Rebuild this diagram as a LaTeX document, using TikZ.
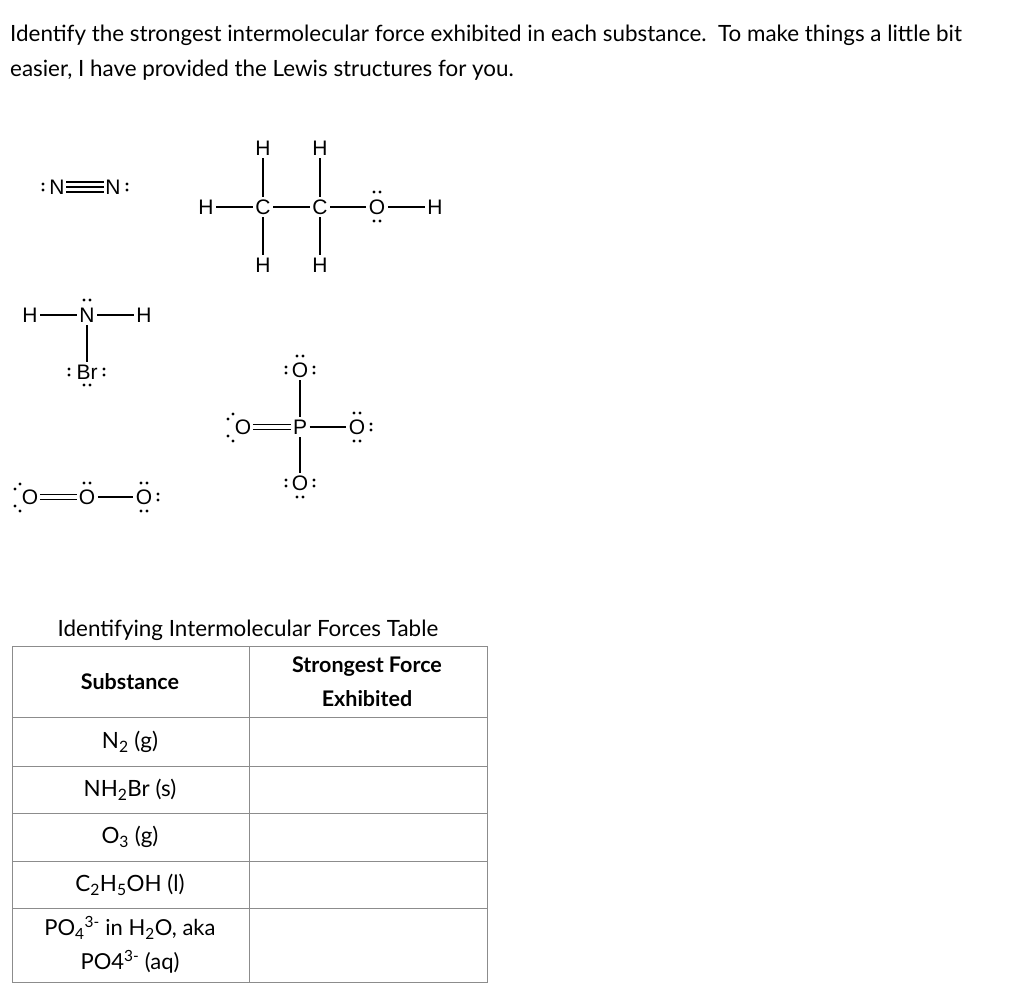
\documentclass[tikz,border=0pt]{standalone}
\usepackage{fontspec}
\setmainfont{Lato}
\newfontfamily\atomfont{Liberation Sans}
\newcommand\pH[2]{\fill (#1-3,#2) circle (1.7) (#1+3,#2) circle (1.7);}
\newcommand\pV[2]{\fill (#1,#2-3) circle (1.7) (#1,#2+3) circle (1.7);}
\newcommand\pD[4]{\fill (#1,#2) circle (1.7) (#3,#4) circle (1.7);}
\begin{document}
\begin{tikzpicture}[x=1pt,y=-1pt,
  atom/.style={font=\atomfont\fontsize{21}{21}\selectfont,inner sep=1.5pt,text height=15pt,text depth=0pt},
  bond/.style={line width=1.4pt,shorten <=1pt,shorten >=1pt},
  txt/.style={font=\fontsize{22.4}{26}\selectfont,inner sep=0pt},
  grid/.style={draw=black!45,line width=0.9pt}]
\useasboundingbox (0,0) rectangle (1024,1003);
\node[txt,anchor=base west] (t1) at (10,42) {Identify the strongest intermolecular force exhibited in each substance.\ \ To make things a little bit};
\node[txt,anchor=base west] (t2) at (10,77) {easier, I have provided the Lewis structures for you.};
% N2
\node[atom] (n1) at (57,187) {N};
\node[atom] (n2) at (113,187) {N};
\draw[line width=1.3pt] ([yshift=-5]n1.east) -- ([yshift=-5]n2.west) (n1.east) -- (n2.west) ([yshift=5]n1.east) -- ([yshift=5]n2.west);
\pV{43}{187}\pV{127}{187}
% ethanol
\node[atom] (h1) at (206,207) {H};
\node[atom] (c1) at (263,207) {C};
\node[atom] (c2) at (320,207) {C};
\node[atom] (o1) at (377,207) {O};
\node[atom] (h2) at (435,207) {H};
\node[atom] (h3) at (263,148) {H};
\node[atom] (h4) at (263,265) {H};
\node[atom] (h5) at (320,148) {H};
\node[atom] (h6) at (320,265) {H};
\draw[bond] (h1)--(c1); \draw[bond] (c1)--(c2); \draw[bond] (c2)--(o1); \draw[bond] (o1)--(h2);
\draw[bond] (h3)--(c1); \draw[bond] (c1)--(h4); \draw[bond] (h5)--(c2); \draw[bond] (c2)--(h6);
\pH{377}{192}\pH{377}{221}
% NH2Br
\node[atom] (h7) at (30,315) {H};
\node[atom] (n3) at (87,315) {N};
\node[atom] (h8) at (144,315) {H};
\node[atom] (br) at (87,372) {Br};
\draw[bond] (h7)--(n3); \draw[bond] (n3)--(h8); \draw[bond] (n3)--(br);
\pH{87}{300}\pV{69}{372}\pV{104}{372}\pH{87}{385}
% O3
\node[atom] (o2) at (30,497) {O};
\node[atom] (o3) at (87,497) {O};
\node[atom] (o4) at (144,497) {O};
\draw[line width=1.3pt] ([yshift=-2.5]o2.east) -- ([yshift=-2.5]o3.west) ([yshift=2.5]o2.east) -- ([yshift=2.5]o3.west);
\draw[bond] (o3)--(o4);
\pD{20}{484}{15}{489}\pD{15}{506}{20}{511}
\pH{87}{483}\pH{144}{483}\pV{158}{497}\pH{144}{511}
% PO4
\node[atom] (p) at (300,427) {P};
\node[atom] (o5) at (300,370) {O};
\node[atom] (o6) at (243,427) {O};
\node[atom] (o7) at (357,427) {O};
\node[atom] (o8) at (300,483) {O};
\draw[bond] (o5)--(p); \draw[bond] (p)--(o7); \draw[bond] (p)--(o8);
\draw[line width=1.3pt] ([yshift=-2.5]o6.east) -- ([yshift=-2.5]p.west) ([yshift=2.5]o6.east) -- ([yshift=2.5]p.west);
\pH{300}{356}\pV{286}{370}\pV{314}{370}
\pD{233}{414}{228}{419}\pD{228}{436}{233}{441}
\pH{357}{413}\pV{371}{427}\pH{357}{441}
\pV{286}{483}\pV{314}{483}\pH{300}{497}
% table
\node[txt,anchor=base] (tt) at (248,636) {Identifying Intermolecular Forces Table};
\draw[grid] (12,646) rectangle (487,982);
\foreach \y in {717,766,813,861,908} \draw[grid] (12,\y) -- (487,\y);
\draw[grid] (249,646) -- (249,982);
\node[txt,font=\bfseries\fontsize{21.5}{24}\selectfont] (hs) at (130,682) {Substance};
\node[txt,font=\bfseries\fontsize{21.5}{34}\selectfont,align=center] (hf) at (367,682) {Strongest Force\\Exhibited};
\node[txt] (r1) at (130,742) {N\textsubscript{2} (g)};
\node[txt] (r2) at (130,790) {NH\textsubscript{2}Br (s)};
\node[txt] (r3) at (130,837) {O\textsubscript{3} (g)};
\node[txt] (r4) at (130,885) {C\textsubscript{2}H\textsubscript{5}OH (l)};
\node[txt,align=center,font=\fontsize{22}{34}\selectfont] (r5) at (130,945) {PO\textsubscript{4}\textsuperscript{3-} in H\textsubscript{2}O, aka\\PO4\textsuperscript{3-} (aq)};
\end{tikzpicture}
\end{document}
